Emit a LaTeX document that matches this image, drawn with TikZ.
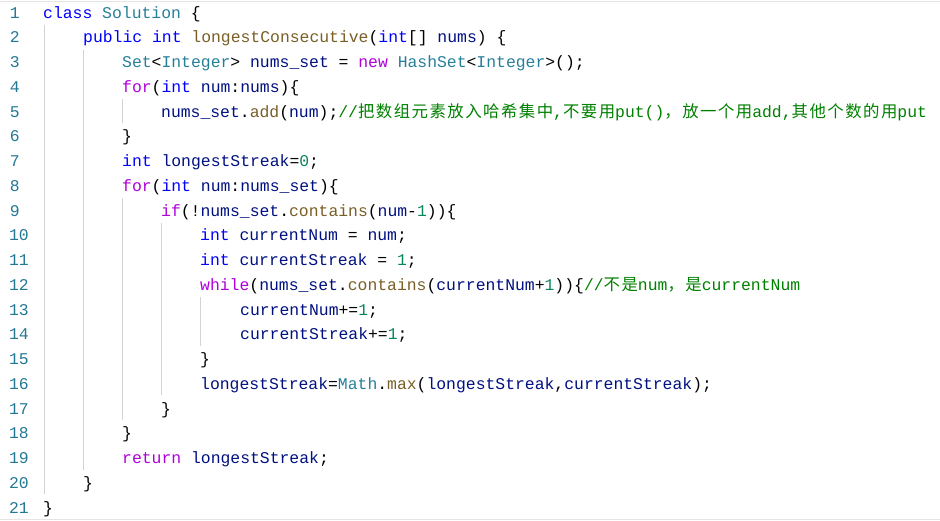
\documentclass[tikz,border=0pt]{standalone}
\usepackage{fontspec}
\setmonofont{Liberation Mono}
\newfontfamily\cjk[LetterSpace=9]{Noto Sans CJK SC}
\definecolor{kwc}{HTML}{0000FF}
\definecolor{ctc}{HTML}{AF00DB}
\definecolor{tyc}{HTML}{267F99}
\definecolor{fnc}{HTML}{795E26}
\definecolor{vrc}{HTML}{001080}
\definecolor{nmc}{HTML}{098658}
\definecolor{cmc}{HTML}{008000}
\definecolor{lnc}{HTML}{237893}
\definecolor{guide}{HTML}{D3D3D3}
\newcommand\kw[1]{\textcolor{kwc}{#1}}
\newcommand\ct[1]{\textcolor{ctc}{#1}}
\newcommand\ty[1]{\textcolor{tyc}{#1}}
\newcommand\fn[1]{\textcolor{fnc}{#1}}
\newcommand\vr[1]{\textcolor{vrc}{#1}}
\newcommand\nm[1]{\textcolor{nmc}{#1}}
\newcommand\cmt[1]{\textcolor{cmc}{#1}}
\newcommand\zh[1]{{\cjk\fontsize{16.4}{18}\selectfont #1}}
\begin{document}
\begin{tikzpicture}[x=1pt,y=-1pt,
  code/.style={anchor=base west,inner sep=0pt,font=\ttfamily\fontsize{16.4}{18}\selectfont},
  lno/.style={anchor=base east,inner sep=0pt,text=lnc,font=\ttfamily\fontsize{16.4}{18}\selectfont},
  gl/.style={draw=guide,line width=1pt}]
\useasboundingbox (0,0) rectangle (940,520);
\draw[draw=guide!60,line width=1pt] (0,1) -- (940,1);
\draw[draw=guide!60,line width=1pt] (0,519) -- (940,519);
\def\B#1{18+24.75*(#1-1)}
% guides
\draw[gl] (44,{\B{2}-18}) -- (44,{\B{20}+6});
\draw[gl] (83,{\B{3}-18}) -- (83,{\B{19}+6});
\draw[gl] (122,{\B{5}-18}) -- (122,{\B{5}+6});
\draw[gl] (122,{\B{9}-18}) -- (122,{\B{17}+6});
\draw[gl] (161,{\B{10}-18}) -- (161,{\B{16}+6});
\draw[gl] (200,{\B{13}-18}) -- (200,{\B{14}+6});
% line numbers
\foreach \i in {1,...,21} {\node[lno] (n\i) at ({\ifnum\i<10 20\else 29\fi},{\B{\i}}) {\i};}
\node[code] (l1) at (43,{\B{1}}) {\kw{class} \ty{Solution} \{};
\node[code] (l2) at (83,{\B{2}}) {\kw{public} \kw{int} \fn{longestConsecutive}(\kw{int}[] \vr{nums}) \{};
\node[code] (l3) at (122,{\B{3}}) {\ty{Set}<\ty{Integer}> \vr{nums\_set} = \ct{new} \ty{HashSet}<\ty{Integer}>();};
\node[code] (l4) at (122,{\B{4}}) {\ct{for}(\kw{int} \vr{num}:\vr{nums})\{};
\node[code] (l5) at (161,{\B{5}}) {\vr{nums\_set}.\fn{add}(\vr{num});\cmt{//\zh{把数组元素放入哈希集中},\zh{不要用}put()\zh{，放一个用}add,\zh{其他个数的用}put}};
\node[code] (l6) at (122,{\B{6}}) {\}};
\node[code] (l7) at (122,{\B{7}}) {\kw{int} \vr{longestStreak}=\nm{0};};
\node[code] (l8) at (122,{\B{8}}) {\ct{for}(\kw{int} \vr{num}:\vr{nums\_set})\{};
\node[code] (l9) at (161,{\B{9}}) {\ct{if}(!\vr{nums\_set}.\fn{contains}(\vr{num}-\nm{1}))\{};
\node[code] (l10) at (200,{\B{10}}) {\kw{int} \vr{currentNum} = \vr{num};};
\node[code] (l11) at (200,{\B{11}}) {\kw{int} \vr{currentStreak} = \nm{1};};
\node[code] (l12) at (200,{\B{12}}) {\ct{while}(\vr{nums\_set}.\fn{contains}(\vr{currentNum}+\nm{1}))\{\cmt{//\zh{不是}num\zh{，是}currentNum}};
\node[code] (l13) at (240,{\B{13}}) {\vr{currentNum}+=\nm{1};};
\node[code] (l14) at (240,{\B{14}}) {\vr{currentStreak}+=\nm{1};};
\node[code] (l15) at (200,{\B{15}}) {\}};
\node[code] (l16) at (200,{\B{16}}) {\vr{longestStreak}=\ty{Math}.\fn{max}(\vr{longestStreak},\vr{currentStreak});};
\node[code] (l17) at (161,{\B{17}}) {\}};
\node[code] (l18) at (122,{\B{18}}) {\}};
\node[code] (l19) at (122,{\B{19}}) {\ct{return} \vr{longestStreak};};
\node[code] (l20) at (83,{\B{20}}) {\}};
\node[code] (l21) at (43,{\B{21}}) {\}};
\end{tikzpicture}
\end{document}
